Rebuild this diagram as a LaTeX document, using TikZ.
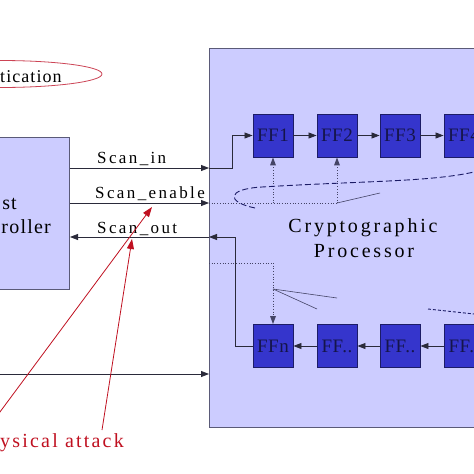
\documentclass[tikz,border=0pt]{standalone}
\usepackage{fontspec}
\setmainfont{Liberation Serif}
\newfontfamily\spfont[LetterSpace=14]{Liberation Serif}
\newfontfamily\cpfont[LetterSpace=14]{Liberation Serif}
\newfontfamily\ctfont[LetterSpace=6]{Liberation Serif}
\newfontfamily\tfont[LetterSpace=6]{Liberation Serif}
\newfontfamily\rfont[LetterSpace=11]{Liberation Serif}
\newfontfamily\ffont[LetterSpace=3]{Liberation Serif}
\usetikzlibrary{arrows.meta,calc}
\definecolor{lav}{HTML}{CCCCFF}
\definecolor{boxedge}{HTML}{5A5A78}
\definecolor{ffill}{HTML}{3535CC}
\definecolor{fedge}{HTML}{1C1C66}
\definecolor{ftext}{HTML}{15154A}
\definecolor{wire}{HTML}{2A2A3A}
\definecolor{dwire}{HTML}{444466}
\definecolor{attack}{HTML}{C01020}
\definecolor{ellred}{HTML}{CC4455}
\begin{document}
\begin{tikzpicture}[x=1pt,y=-1pt,
  bigbox/.style={draw=boxedge,fill=lav,line width=1.4pt,inner sep=0pt},
  ffbox/.style={draw=fedge,fill=ffill,line width=0.9pt,inner sep=0pt,
    minimum width=40pt,minimum height=43pt,text=ftext,
    font=\ffont\fontsize{19}{21}\selectfont},
  arr/.style={draw=wire,line width=0.8pt,-{Triangle[length=8pt,width=6pt]}},
  dotline/.style={draw=dwire,line width=0.7pt,dotted},
  dotarr/.style={draw=dwire,line width=0.7pt,dotted,-{Triangle[length=8pt,width=6pt,line width=0pt]}},
  thinline/.style={draw=dwire,line width=0.6pt},
  redarr/.style={draw=attack,line width=0.8pt,-{Triangle[length=10pt,width=7pt]}},
  lbl/.style={inner sep=0pt,anchor=base west,font=\spfont\fontsize{17}{19}\selectfont},
  bigtxt/.style={inner sep=0pt,font=\cpfont\fontsize{20}{22}\selectfont},
  cttxt/.style={inner sep=0pt,font=\ctfont\fontsize{20}{22}\selectfont},
]
\useasboundingbox (0,0) rectangle (474,474);
\clip (0,0) rectangle (474,474);
\fill[white] (0,0) rectangle (474,474);

% main boxes
\node[bigbox,anchor=north west,minimum width=300pt,minimum height=379pt] (proc) at (209,48) {};
\node[bigbox,anchor=north east,minimum width=100pt,minimum height=152pt] (ctrl) at (70,137) {};

\node[cttxt,anchor=base east] (ctrlA) at (17,209) {st};
\node[cttxt,anchor=base east] (ctrlB) at (51,233) {roller};

\node[bigtxt,anchor=base] (cp1) at (363,232) {Cryptographic};
\node[bigtxt,anchor=base] (cp2) at (364,257) {Processor};

% flip-flops
\node[ffbox] (ff1) at (273,135.5) {FF1};
\node[ffbox] (ff2) at (337,135.5) {FF2};
\node[ffbox] (ff3) at (400,135.5) {FF3};
\node[ffbox] (ff4) at (464,135.5) {FF4};
\node[ffbox] (ffn) at (273,346) {FFn};
\node[ffbox] (ffb2) at (337,346) {FF..};
\node[ffbox] (ffb3) at (400,346) {FF..};
\node[ffbox] (ffb4) at (464,346) {FF..};

% coordinates
\coordinate (siA) at (70,168);
\coordinate (siB) at (209,168);
\coordinate (seA) at (70,203);
\coordinate (seB) at (209,203);
\coordinate (soA) at (70,237);
\coordinate (soB) at (209,237);
\coordinate (btA) at (0,374);
\coordinate (btB) at (209,374);

% external signals
\draw[arr] (siA) -- (siB);
\draw[arr] (seA) -- (seB);
\draw[arr] (soB) -- (soA);
\draw[arr] (btA) -- (btB);

\node[lbl] (lsi) at (97,163) {Scan\_in};
\node[lbl] (lse) at (95,198) {Scan\_enable};
\node[lbl] (lso) at (97,233) {Scan\_out};

% scan in path
\draw[arr] (siB) -- (232,168) |- (ff1.west);
\draw[arr] (ff1) -- (ff2);
\draw[arr] (ff2) -- (ff3);
\draw[arr] (ff3) -- (ff4);

% bottom chain
\draw[arr] (ffb4) -- (ffb3);
\draw[arr] (ffb3) -- (ffb2);
\draw[arr] (ffb2) -- (ffn);

% scan out path
\draw[arr] (ffn.west) -- (235,346) |- (soB);

% scan enable (dotted)
\coordinate (seC) at (337,203);
\draw[dotline] (seB) -- (seC);
\draw[dotarr] (ff1.south |- seB) -- (ff1.south);
\draw[dotarr] (seC) -- (ff2.south);
\draw[thinline] (seC) -- (380,193);

\coordinate (seD) at (273,263);
\draw[dotline] (209,263) -- (seD);
\draw[dotarr] (seD) -- (ffn.north);
\coordinate (seE) at (273,289);
\draw[thinline] (seE) -- (337,298);
\draw[thinline] (seE) -- (317,309);

% dashed curves
\draw[draw=fedge,line width=0.9pt,dash pattern=on 6pt off 3pt]
  (255,208) .. controls (226,202) and (226,189) .. (262,187)
  .. controls (360,181) and (430,182) .. (474,172);
\draw[draw=fedge,line width=0.9pt,dash pattern=on 3pt off 2pt]
  (428,309) -- (474,314);

% authentication ellipse
\draw[ellred,line width=0.8pt] (0,74) ellipse [x radius=102pt,y radius=13.5pt];
\node[inner sep=0pt,anchor=base west,font=\tfont\fontsize{18}{20}\selectfont] (auth) at (0,82) {tication};

% physical attack
\node[inner sep=0pt,anchor=base west,text=attack,font=\rfont\fontsize{20}{22}\selectfont] (phys) at (0,447) {ysical attack};
\coordinate (paA) at (-6,420);
\coordinate (paB) at (102,430);
\coordinate (tgA) at (152,207);
\coordinate (tgB) at (132,239);
\draw[redarr] (paA) -- (tgA);
\draw[redarr] (paB) -- (tgB);
\end{tikzpicture}
\end{document}
